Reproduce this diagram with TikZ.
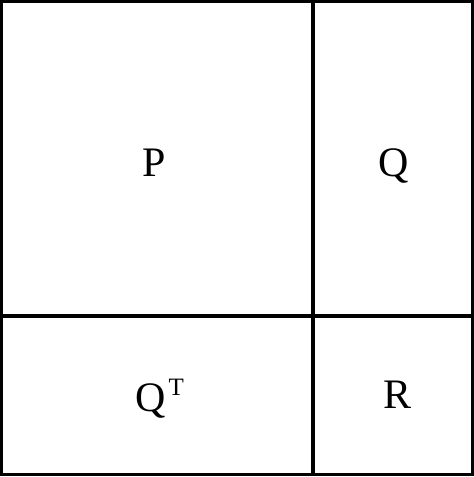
\documentclass[tikz,border=0pt]{standalone}
\usepackage{fontspec}
\setmainfont{Liberation Serif}
\begin{document}
\begin{tikzpicture}[x=1pt,y=-1pt,
  frame/.style={line width=3.2pt},
  lbl/.style={font=\fontsize{42}{46}\selectfont, inner sep=0pt, anchor=base}]
\useasboundingbox (0,0) rectangle (474,477);
\draw[frame] (1.6,1.6) rectangle (472.4,474.4);
\coordinate (vt) at (313,1.6);
\coordinate (vb) at (313,474.4);
\coordinate (hl) at (1.6,316);
\coordinate (hr) at (472.4,316);
\draw[frame] (vt) -- (vb);
\draw[frame] (hl) -- (hr);
\node[lbl] (P) at (154,176) {P};
\node[lbl] (Q) at (394,176) {Q};
\node[lbl, anchor=base west] (QT) at (135,411) {Q\kern3pt\raisebox{15.5pt}{\fontsize{25}{27}\selectfont T}};
\node[lbl] (R) at (398,408) {R};
\end{tikzpicture}
\end{document}
